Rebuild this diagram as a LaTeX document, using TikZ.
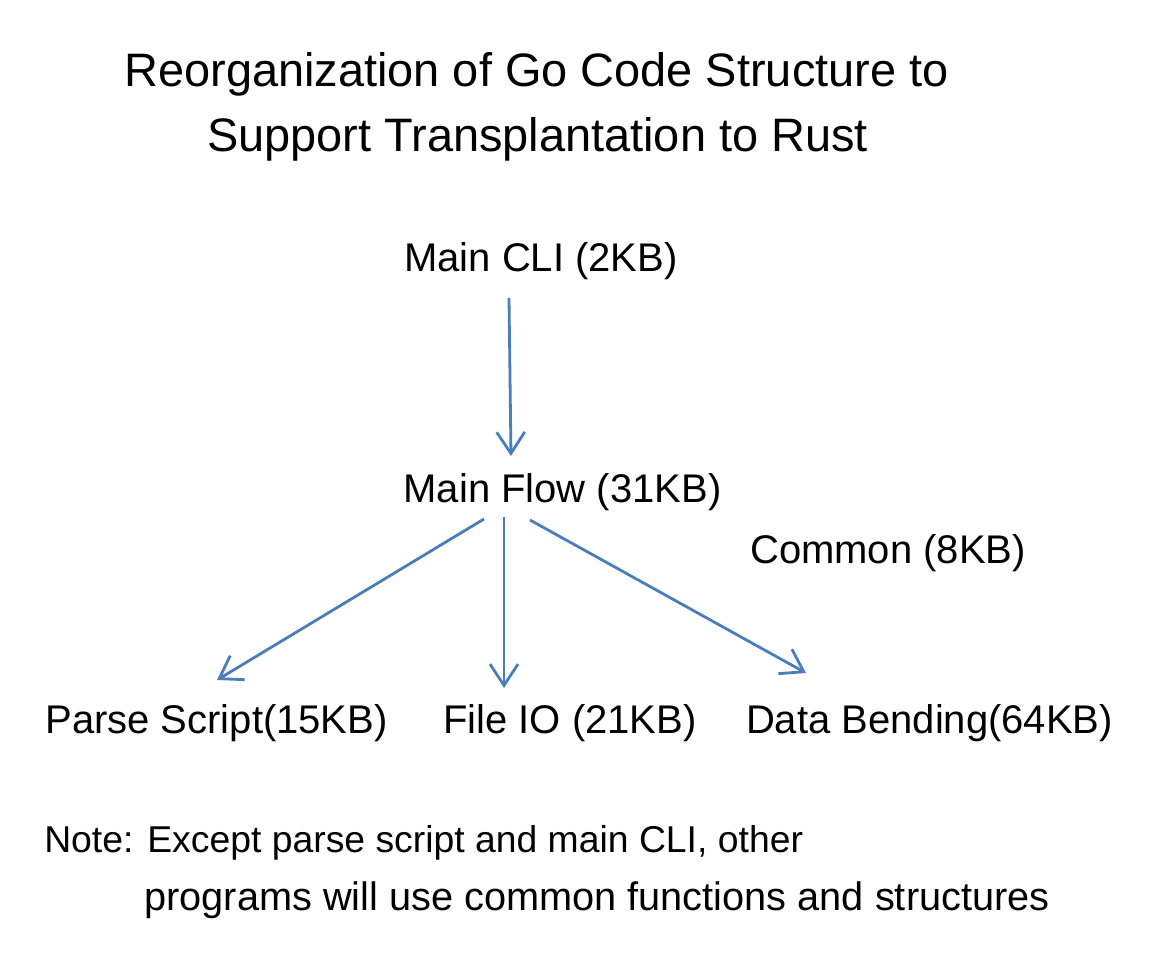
\documentclass[tikz,border=0pt]{standalone}
\usepackage{fontspec}
\setmainfont{Liberation Sans}
\usetikzlibrary{arrows.meta,calc}
\definecolor{arrblue}{RGB}{74,126,187}
\begin{document}
\begin{tikzpicture}[x=0.75pt,y=-0.75pt,
  lbl/.style={inner sep=0pt,anchor=base,font=\fontsize{30pt}{36pt}\selectfont},
  ttl/.style={inner sep=0pt,anchor=base,font=\fontsize{35.2pt}{42pt}\selectfont},
  notetxt/.style={inner sep=0pt,anchor=base west},
  arr/.style={draw=arrblue,line width=2.1pt,-{Straight Barb[length=16pt,width=21pt,line width=2.1pt]}}]
\useasboundingbox[fill=white] (0,0) rectangle (1152,959);
\node[ttl] (title1) at (536.5,87) {Reorganization of Go Code Structure to};
\node[ttl] (title2) at (537.5,152) {Support Transplantation to Rust};
\node[lbl] (cli) at (541,272) {Main CLI (2KB)};
\node[lbl] (flow) at (562.5,502) {Main Flow (31KB)};
\node[lbl] (common) at (888,563) {Common (8KB)};
\node[lbl] (parse) at (216.5,733) {Parse Script(15KB)};
\node[lbl] (fileio) at (570,733) {File IO (21KB)};
\node[lbl] (data) at (929.5,733) {Data Bending(64KB)};
\node[notetxt,font=\fontsize{28pt}{34pt}\selectfont] (note1) at (44,852) {Note: Except parse script and main CLI, other};
\node[notetxt,font=\fontsize{29.8pt}{36pt}\selectfont] (note2) at (144,910) {programs will use common functions and structures};
\draw[arr] ($(cli.base)+(-32,26)$) -- ($(flow.base)+(-51.5,-46)$);
\draw[arr] ($(flow.base)+(-78.5,17)$) -- ($(parse.base)+(0.5,-53)$);
\draw[arr] ($(flow.base)+(-58.5,15)$) -- ($(fileio.base)+(-66,-45)$);
\draw[arr] ($(flow.base)+(-32.5,18)$) -- ($(data.base)+(-123.5,-60)$);
\end{tikzpicture}
\end{document}
